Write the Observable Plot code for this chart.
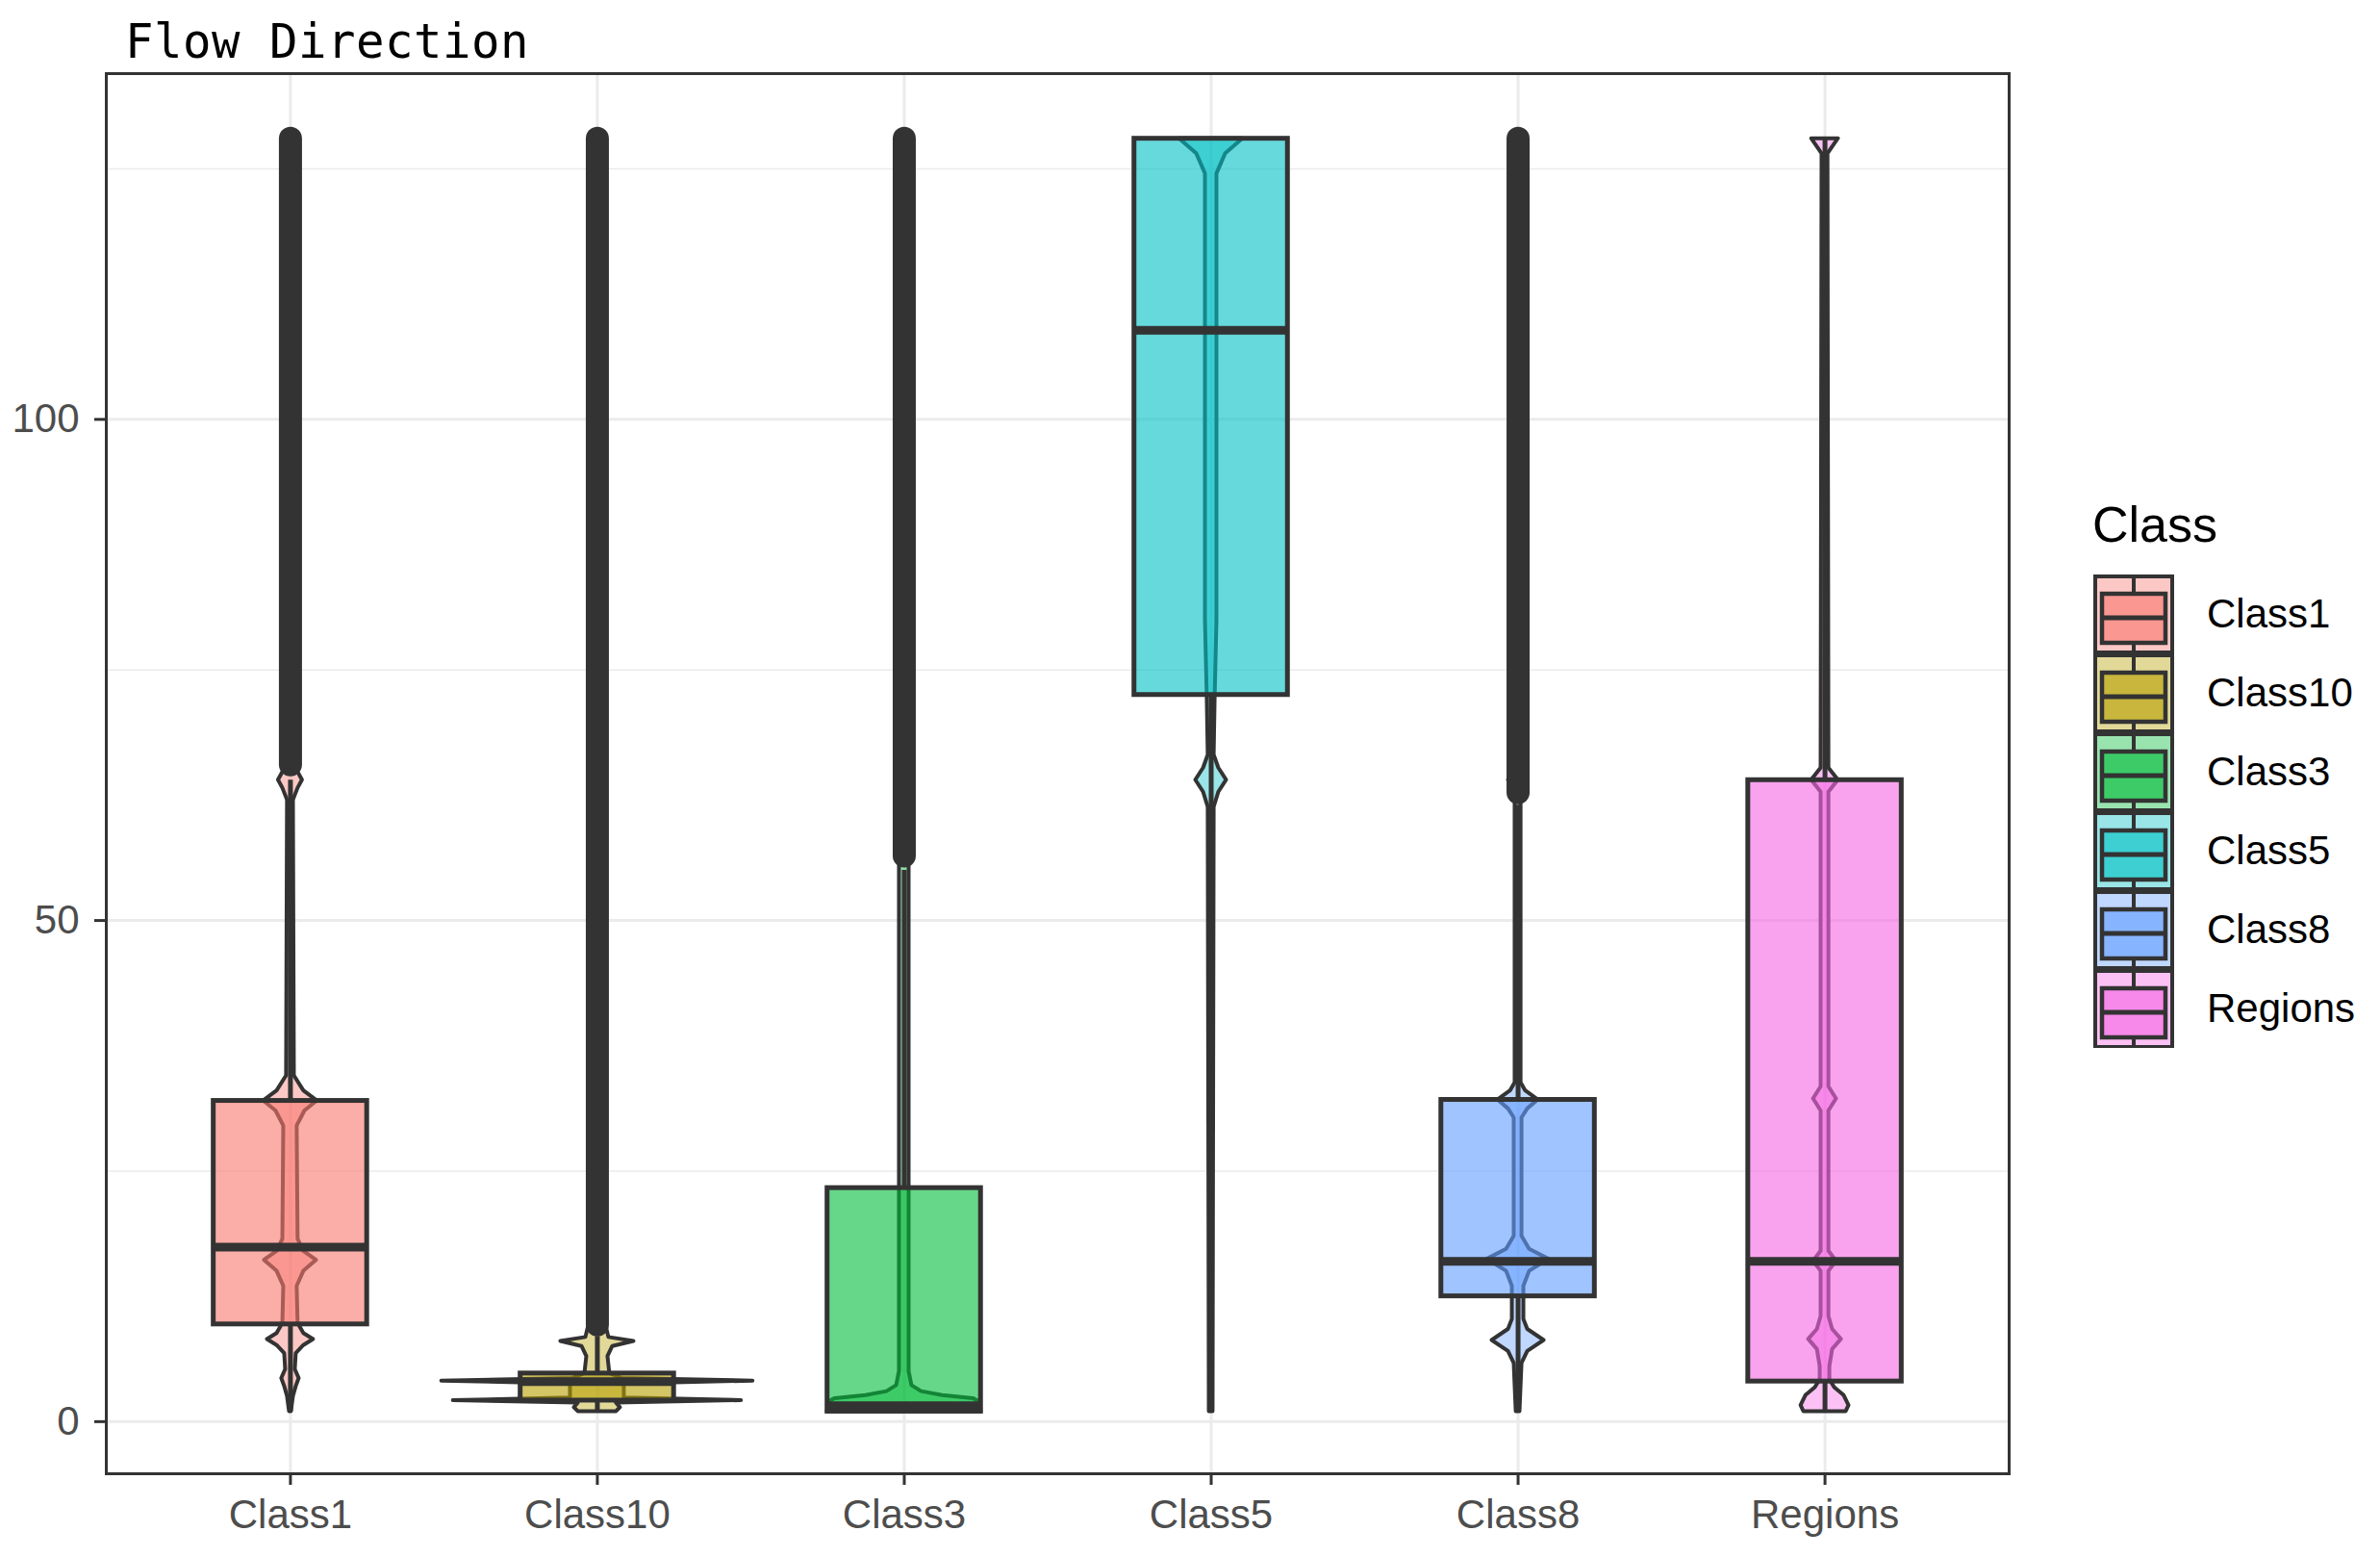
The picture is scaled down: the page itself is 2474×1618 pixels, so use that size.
<!DOCTYPE html>
<html>
<head>
<meta charset="utf-8">
<script src="https://cdn.jsdelivr.net/npm/d3@7"></script>
<script src="https://cdn.jsdelivr.net/npm/@observablehq/plot@0.6"></script>
<style>
  html, body { margin: 0; padding: 0; background: #fff; }
  #page { position: relative; width: 2474px; height: 1618px; overflow: hidden; background: #fff;
          font-family: "Liberation Sans", Arial, sans-serif; }
  #title { position: absolute; left: 130px; top: 19px; font-family: "DejaVu Sans Mono", monospace;
           font-size: 49px; line-height: 49px; letter-spacing: 0.5px; color: #000; white-space: nowrap; }
  #chart { position: absolute; left: 0; top: 70px; }
  #legendTitle { position: absolute; left: 2175px; top: 519px; font-size: 52px; line-height: 52px; color: #000; }
  #legendKeys { position: absolute; left: 2176px; top: 597px; }
  .row { display: flex; align-items: center; height: 82px; }
  .row svg { display: block; }
  .row span { margin-left: 32px; font-size: 42px; line-height: 42px; color: #000; }
</style>
</head>
<body>
<div id="page">
  <div id="title">Flow Direction</div>
  <div id="chart"></div>
  <div id="legendTitle">Class</div>
  <div id="legendKeys"></div>
</div>
<script>
// ---------- data ----------
const categories = ["Class1", "Class10", "Class3", "Class5", "Class8", "Regions"];
const colors = ["#F8766D", "#B79F00", "#00BA38", "#00BFC4", "#619CFF", "#F564E3"];

// box-plot statistics
const whiskerLow  = [1.0, 1.0, 1.0, 1.0, 1.0, 1.0];
const q1          = [9.7, 2.1, 1.0, 72.5, 12.5, 4.0];
const median      = [17.4, 4.0, 1.6, 108.9, 16.0, 16.0];
const q3          = [32.0, 4.8, 23.3, 128.0, 32.1, 64.0];
const whiskerHigh = [64.0, 8.5, 55.0, 128.0, 61.5, 128.0];
// outliers (dense enough to merge into a continuous column)
const outlierLow  = [65.5, 9.6, 56.4, null, 62.7, null];
const outlierHigh = [128, 128, 128, null, 128, null];

// violin profiles: [value, relative density (1 = widest violin)]
const violinClass1 = [[1,0.006],[2.5,0.019],[3.5,0.037],[4.3,0.056],[5.2,0.031],[6.8,0.037],[7.6,0.086],[8.2,0.148],[8.8,0.086],[9.8,0.049],[13.5,0.043],[15,0.086],[16.1,0.167],[17,0.086],[18.2,0.049],[29.5,0.043],[31,0.093],[32,0.173],[33,0.086],[34.5,0.025],[62,0.019],[63.2,0.049],[64,0.077],[64.8,0.049],[66,0.019],[128,0.019]];
const violinClass10 = [[1.0,0.123],[1.4,0.148],[1.85,0.123],[2.1,0.926],[2.35,0.173],[3.75,0.173],[4.05,1.0],[4.3,0.16],[4.8,0.08],[6.5,0.068],[7.5,0.099],[8.0,0.235],[8.4,0.074],[10,0.049],[128,0.037]];
const violinClass3 = [[1.0,0.494],[2.0,0.481],[2.3,0.444],[2.6,0.247],[3.0,0.111],[3.6,0.049],[5,0.031],[128,0.031]];
const violinClass5 = [[1,0.012],[61.3,0.019],[62.8,0.049],[64,0.099],[65.2,0.049],[66.5,0.019],[72,0.025],[80,0.037],[124.5,0.037],[126.5,0.093],[128,0.204]];
const violinClass8 = [[1,0.012],[5.8,0.025],[7,0.062],[8.1,0.167],[9.2,0.062],[10.2,0.037],[13.5,0.037],[15,0.074],[16.2,0.198],[17.2,0.074],[18.5,0.025],[30.3,0.025],[31.2,0.062],[32.1,0.13],[33,0.049],[33.8,0.019],[62.5,0.019],[64,0.062],[65.5,0.019],[128,0.019]];
const violinRegions = [[1.0,0.136],[1.6,0.154],[2.6,0.123],[3.4,0.062],[4.2,0.031],[5.5,0.031],[7.2,0.049],[8.2,0.105],[9.2,0.049],[10.5,0.025],[15,0.025],[16,0.074],[17,0.025],[31,0.025],[32.2,0.074],[33.4,0.025],[62.8,0.025],[64,0.086],[65.2,0.025],[126.5,0.019],[128,0.086]];

const yTicks = [0, 50, 100];
const yMinor = [25, 75, 125];

// ---------- build ----------
const violins = [violinClass1, violinClass10, violinClass3, violinClass5, violinClass8, violinRegions];
const violinMax = 0.507;   // half-width (in category steps) of the widest violin
const boxHalf = 0.25;
const idx = categories.map((c, i) => i);

const stats = categories.map((c, i) => ({
  i, c, color: colors[i],
  lo: whiskerLow[i], q1: q1[i], med: median[i], q3: q3[i], hi: whiskerHigh[i],
  oLo: outlierLow[i], oHi: outlierHigh[i]
}));
const outliers = stats.filter(d => d.oLo != null);

const dark = "#333333";
const grid = "#EBEBEB";

const violinMarks = violins.map((prof, i) =>
  Plot.areaX(prof, {
    y: d => d[0],
    x1: d => i - d[1] * violinMax,
    x2: d => i + d[1] * violinMax,
    fill: colors[i], fillOpacity: 0.4,
    stroke: dark, strokeWidth: 4, strokeLinejoin: "round"
  })
);

const chart = Plot.plot({
  width: 2474,
  height: 1548,
  marginLeft: 110,
  marginRight: 386,
  marginTop: 6,
  marginBottom: 87,
  style: { background: "#fff", fontFamily: "'Liberation Sans', Arial, sans-serif" },
  x: { type: "linear", domain: [-0.6, 5.6], axis: null },
  y: { domain: [-5.2, 134.5], axis: null },
  color: { type: "identity" },
  marks: [
    Plot.gridY(yMinor, { stroke: grid, strokeOpacity: 1, strokeWidth: 1.5 }),
    Plot.gridY(yTicks, { stroke: grid, strokeOpacity: 1, strokeWidth: 3 }),
    Plot.gridX(idx, { stroke: grid, strokeOpacity: 1, strokeWidth: 3 }),
    ...violinMarks,
    // outliers
    Plot.ruleX(outliers, { x: "i", y1: "oLo", y2: "oHi", stroke: dark, strokeWidth: 24, strokeLinecap: "round" }),
    // whiskers
    Plot.ruleX(stats, { x: "i", y1: "lo", y2: "q1", stroke: dark, strokeWidth: 5 }),
    Plot.ruleX(stats, { x: "i", y1: "q3", y2: "hi", stroke: dark, strokeWidth: 5 }),
    // boxes
    Plot.rect(stats, {
      x1: d => d.i - boxHalf, x2: d => d.i + boxHalf, y1: "q1", y2: "q3",
      fill: "color", fillOpacity: 0.6, stroke: dark, strokeWidth: 5
    }),
    Plot.ruleY(stats, { y: "med", x1: d => d.i - boxHalf, x2: d => d.i + boxHalf, stroke: dark, strokeWidth: 9 }),
    Plot.frame({ stroke: dark, strokeWidth: 3 }),
    // axes: ticks then labels
    Plot.axisY(yTicks, { tickSize: 12, tickFormat: () => "", color: dark, strokeWidth: 3, label: null }),
    Plot.axisY(yTicks, { tickSize: 0, tickPadding: 28, fontSize: 42, color: "#4D4D4D", label: null }),
    Plot.axisX(idx, { tickSize: 12, tickFormat: () => "", color: dark, strokeWidth: 3, label: null }),
    Plot.axisX(idx, { tickSize: 0, tickPadding: 27, fontSize: 42, color: "#4D4D4D", label: null,
                      tickFormat: i => categories[i] })
  ]
});
document.getElementById("chart").appendChild(chart);

// ---------- legend ----------
const keys = document.getElementById("legendKeys");
const ns = "http://www.w3.org/2000/svg";
categories.forEach((c, i) => {
  const row = document.createElement("div");
  row.className = "row";
  const svg = document.createElementNS(ns, "svg");
  svg.setAttribute("width", 86);
  svg.setAttribute("height", 82);
  svg.innerHTML =
    `<rect x="2" y="2" width="80" height="79" fill="${colors[i]}" fill-opacity="0.4" stroke="${dark}" stroke-width="4"/>` +
    `<line x1="42" y1="2" x2="42" y2="20" stroke="${dark}" stroke-width="4"/>` +
    `<line x1="42" y1="71" x2="42" y2="81" stroke="${dark}" stroke-width="4"/>` +
    `<rect x="9" y="20" width="66" height="51" fill="${colors[i]}" fill-opacity="0.6" stroke="${dark}" stroke-width="4.5"/>` +
    `<line x1="9" y1="45" x2="75" y2="45" stroke="${dark}" stroke-width="5"/>`;
  row.appendChild(svg);
  const lab = document.createElement("span");
  lab.textContent = c;
  row.appendChild(lab);
  keys.appendChild(row);
});
</script>
</body>
</html>
